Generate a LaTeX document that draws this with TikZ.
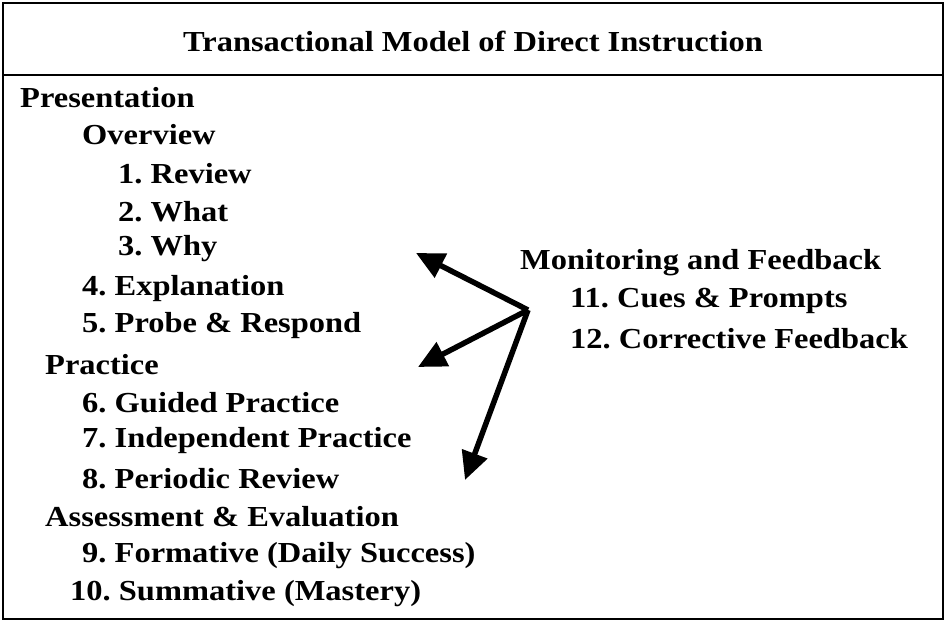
\documentclass[tikz,border=0pt]{standalone}
\usepackage{fontspec}
\setmainfont[FakeStretch=1.12]{Liberation Serif}
\usetikzlibrary{arrows.meta}
\begin{document}
\begin{tikzpicture}[x=1pt,y=-1pt,
  txt/.style={anchor=west,inner sep=0pt,font=\fontsize{29}{31}\selectfont\bfseries},
  arr/.style={line width=5.5pt,-{Triangle[length=28pt,width=26pt]}}]
\useasboundingbox (0,0) rectangle (946,622);
\draw[line width=1.5pt] (3,3) rectangle (943,619);
\draw[line width=1.2pt] (3,75) -- (943,75);
\node[inner sep=0pt,font=\fontsize{29}{31}\selectfont\bfseries] (title) at (473,41) {Transactional Model of Direct Instruction};
\node[txt] (p) at (20,98) {Presentation};
\node[txt] (o) at (82,135) {Overview};
\node[txt] (r1) at (118,174) {1.~Review};
\node[txt] (r2) at (118,212) {2.~What};
\node[txt] (r3) at (118,249) {3.~Why};
\node[txt] (r4) at (82,289) {4.~Explanation};
\node[txt] (r5) at (82,326) {5.~Probe \& Respond};
\node[txt] (pr) at (45,365) {Practice};
\node[txt] (r6) at (82,403) {6.~Guided Practice};
\node[txt] (r7) at (82,441) {7.~Independent Practice};
\node[txt] (r8) at (82,479) {8.~Periodic Review};
\node[txt] (ae) at (45,517) {Assessment \& Evaluation};
\node[txt] (r9) at (82,556) {9.~Formative (Daily Success)};
\node[txt] (r10) at (70,594) {10.~Summative (Mastery)};
\node[txt] (m) at (520,263) {Monitoring and Feedback};
\node[txt] (r11) at (570,301) {11.~Cues \& Prompts};
\node[txt] (r12) at (570,339) {12.~Corrective Feedback};
\coordinate (c) at (528,310);
\coordinate (t1) at (416,253);
\coordinate (t2) at (418,367);
\coordinate (t3) at (465,480);
\draw[arr] (c) -- (t1);
\draw[arr] (c) -- (t2);
\draw[arr] (c) -- (t3);
\end{tikzpicture}
\end{document}
